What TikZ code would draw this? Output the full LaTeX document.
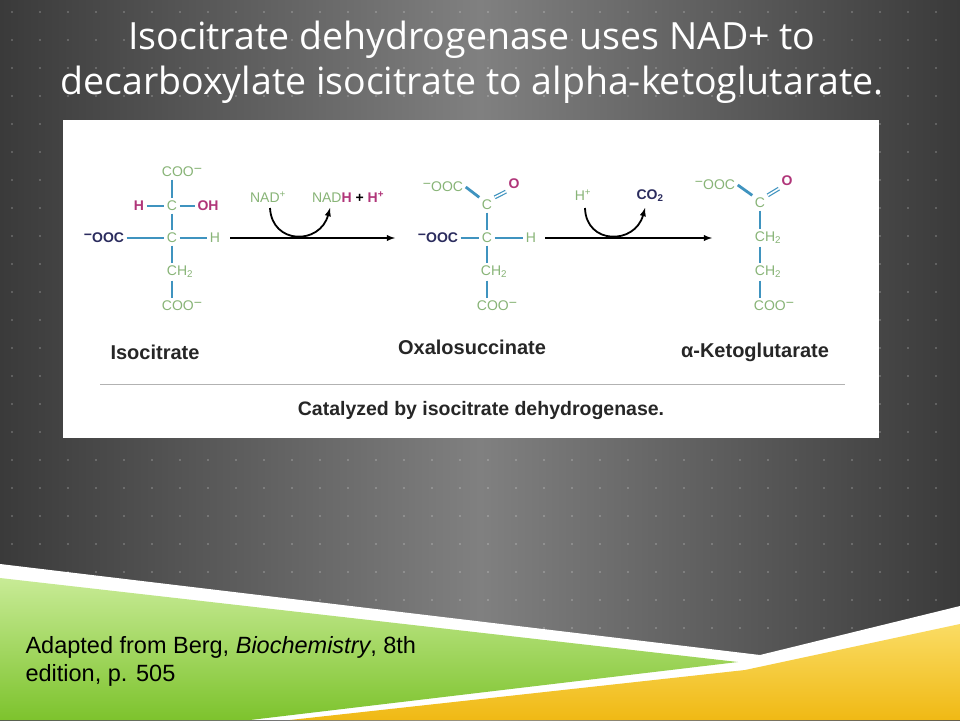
\documentclass[tikz,border=0pt]{standalone}
\usepackage{fontspec}
\setmainfont{Liberation Sans}
\newfontfamily\titlefont{Open Sans}
\newcommand{\mn}{\raisebox{0.45ex}{−}}
\newcommand{\pl}{\textsuperscript{+}}
\begin{document}
\begin{tikzpicture}[x=1pt,y=-1pt,
  gr/.style={text=chemgreen,font=\fontsize{14}{15}\selectfont,inner sep=2.5pt},
  mg/.style={text=chemmag,font=\bfseries\fontsize{14}{15}\selectfont,inner sep=2.5pt},
  nv/.style={text=chemnavy,font=\bfseries\fontsize{14}{15}\selectfont,inner sep=2.5pt},
  bond/.style={draw=chemblue,line width=2.8pt},
  rxn/.style={draw=black,line width=1.8pt,-latex},
  lbl/.style={font=\bfseries\fontsize{20}{22}\selectfont,text=black!85}]
\definecolor{chemgreen}{HTML}{88B477}
\definecolor{chemblue}{HTML}{3F93BF}
\definecolor{chemmag}{HTML}{B03579}
\definecolor{chemnavy}{HTML}{2B2C5E}
\definecolor{gdark}{HTML}{3A3A3A}
\definecolor{gmid}{HTML}{808080}
\useasboundingbox (0,0) rectangle (960,720);
\shade[left color=gdark,right color=gmid] (0,0) rectangle (480,720);
\shade[left color=gmid,right color=gdark] (480,0) rectangle (960,720);
\foreach \x in {12,40,...,960}{\foreach \y in {12,40,...,720}{\fill[white,opacity=0.25] (\x,\y) circle (1.1);}}
% bottom decoration
\fill[white] (0,564) -- (760,655) -- (960,606) -- (960,720) -- (0,720) -- cycle;
\shade[top color={rgb,255:red,200;green,235;blue,150},bottom color={rgb,255:red,125;green,195;blue,45}] (0,578) -- (738,662) -- (250,720) -- (0,720) -- cycle;
\shade[top color={rgb,255:red,250;green,220;blue,100},bottom color={rgb,255:red,240;green,185;blue,20}] (290,720) -- (745,670) -- (960,624) -- (960,720) -- cycle;
\node[anchor=west,font=\fontsize{23.5}{28}\selectfont,align=left,text=black] (cite) at (22,661) {Adapted from Berg, \textit{Biochemistry}, 8th\\edition, p. 505};
% title
\node[text=white,font=\titlefont\fontsize{37.5}{45}\selectfont,align=center] (title) at (472,62) {Isocitrate dehydrogenase uses NAD+ to\\decarboxylate isocitrate to alpha-ketoglutarate.};
% card
\fill[white] (63,120) rectangle (879,438);
% Isocitrate
\node[gr] (i1) at (182,172) {COO\mn};
\node[gr] (ic1) at (172,206) {C};
\node[mg] (ih) at (139,206) {H};
\node[mg] (ioh) at (208,206) {OH};
\node[gr] (ic2) at (172,238) {C};
\node[nv] (iooc) at (104,238) {\mn OOC};
\node[gr] (ih2) at (215,238) {H};
\node[gr] (ich) at (180,272) {CH\textsubscript{2}};
\node[gr] (i2) at (182,306) {COO\mn};
\draw[bond] (i1.south-|ic1) -- (ic1); \draw[bond] (ic1) -- (ic2);
\draw[bond] (ih) -- (ic1); \draw[bond] (ic1) -- (ioh);
\draw[bond] (iooc) -- (ic2); \draw[bond] (ic2) -- (ih2);
\draw[bond] (ic2) -- (ich.north-|ic2); \draw[bond] (ich.south-|ic2) -- (i2.north-|ic2);
\node[lbl] (il) at (155,352) {Isocitrate};
% arrow 1
\coordinate (a1s) at (230,238); \coordinate (a1e) at (395,238);
\draw[rxn] (a1s) -- (a1e);
\node[gr] (nad) at (268,197) {NAD\pl};
\node[gr] (nadh) at (348,197) {NAD\textcolor{chemmag}{\textbf{H}} \textbf{\textcolor{black}{+}} \textcolor{chemmag}{\textbf{H\pl}}};
\draw[line width=1.8pt,-latex] (270,208) .. controls (272,245) and (320,245) .. (330,208);
% Oxalosuccinate
\node[gr] (o1) at (443,187) {\mn OOC};
\node[mg] (oo) at (514,184) {O};
\node[gr] (oc1) at (487,205) {C};
\node[nv] (oooc) at (438,238) {\mn OOC};
\node[gr] (oc2) at (487,238) {C};
\node[gr] (oh) at (531,238) {H};
\node[gr] (och) at (494,272) {CH\textsubscript{2}};
\node[gr] (o2) at (497,306) {COO\mn};
\draw[bond] (o1.east) -- (oc1.north west);
\draw[bond,double,double distance=1.6pt,line width=1.2pt] (oc1.north east) -- (oo.south west);
\draw[bond] (oc1) -- (oc2); \draw[bond] (oooc) -- (oc2); \draw[bond] (oc2) -- (oh);
\draw[bond] (oc2) -- (och.north-|oc2); \draw[bond] (och.south-|oc2) -- (o2.north-|oc2);
\node[lbl] (ol) at (472,347) {Oxalosuccinate};
% arrow 2
\coordinate (a2s) at (545,238); \coordinate (a2e) at (712,238);
\draw[rxn] (a2s) -- (a2e);
\node[gr] (hp) at (583,195) {H\pl};
\node[nv] (co2) at (650,196) {CO\textsubscript{2}};
\draw[line width=1.8pt,-latex] (585,208) .. controls (586,245) and (635,245) .. (645,208);
% alpha-KG
\node[gr] (k1) at (715,185) {\mn OOC};
\node[mg] (ko) at (787,181) {O};
\node[gr] (kc) at (760,203) {C};
\node[gr] (kch1) at (768,238) {CH\textsubscript{2}};
\node[gr] (kch2) at (768,272) {CH\textsubscript{2}};
\node[gr] (k2) at (774,306) {COO\mn};
\draw[bond] (k1.east) -- (kc.north west);
\draw[bond,double,double distance=1.6pt,line width=1.2pt] (kc.north east) -- (ko.south west);
\draw[bond] (kc) -- (kch1.north-|kc); \draw[bond] (kch1.south-|kc) -- (kch2.north-|kc); \draw[bond] (kch2.south-|kc) -- (k2.north-|kc);
\node[lbl] (kl) at (755,352) {α-Ketoglutarate};
% footer
\coordinate (l1) at (100,384); \coordinate (l2) at (845,384);
\draw[black!30,line width=0.8pt] (l1) -- (l2);
\node[font=\bfseries\fontsize{19.5}{22}\selectfont,text=black!85] (cat) at (481,410) {Catalyzed by isocitrate dehydrogenase.};
\end{tikzpicture}
\end{document}
